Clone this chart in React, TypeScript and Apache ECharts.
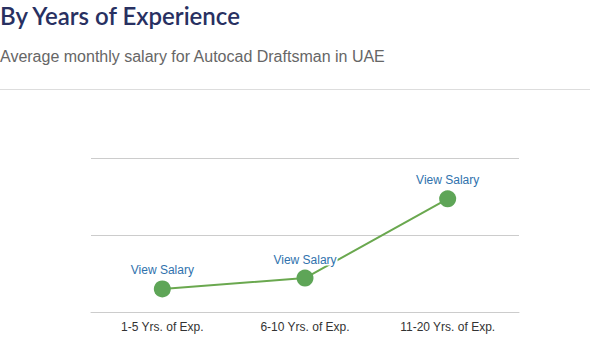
import React, { useEffect, useRef } from "react";
import * as echarts from "echarts";

const categories = ["1-5 Yrs. of Exp.", "6-10 Yrs. of Exp.", "11-20 Yrs. of Exp."];
const salaries = [3000, 4400, 14700];
const pointLabels = ["View Salary", "View Salary", "View Salary"];

export default function App() {
  const ref = useRef<HTMLDivElement>(null);
  useEffect(() => {
    document.body.style.margin = "0";
    const chart = echarts.init(ref.current!, null, { renderer: "svg" });
    chart.setOption({
      animation: false,
      title: [
        {
          text: "By Years of Experience",
          left: 0,
          top: 3,
          padding: 0,
          textStyle: { fontFamily: "Lato", fontSize: 24, fontWeight: 600, color: "#283061" },
        },
        {
          text: "Average monthly salary for Autocad Draftsman in UAE",
          left: 0,
          top: 48,
          padding: 0,
          textStyle: { fontFamily: "Liberation Sans", fontSize: 16, fontWeight: "normal", color: "#666666" },
        },
      ],
      graphic: [
        {
          type: "line",
          shape: { x1: 0, y1: 89.5, x2: 590, y2: 89.5 },
          style: { stroke: "#dddddd", lineWidth: 1 },
        },
      ],
      grid: { left: 91, right: 71, top: 158, bottom: 46, containLabel: false },
      xAxis: {
        type: "category",
        data: categories,
        boundaryGap: true,
        axisLine: { show: true, lineStyle: { color: "#cccccc" } },
        axisTick: { show: false },
        axisLabel: { color: "#333333", fontSize: 12, fontFamily: "Liberation Sans", margin: 9 },
      },
      yAxis: {
        type: "value",
        min: 0,
        max: 20000,
        interval: 10000,
        axisLabel: { show: false },
        axisLine: { show: false },
        axisTick: { show: false },
        splitLine: { lineStyle: { color: "#cccccc" } },
      },
      series: [
        {
          type: "line",
          data: salaries,
          symbol: "circle",
          symbolSize: 17,
          itemStyle: { color: "#5ea557" },
          lineStyle: { color: "#6aa84f", width: 2 },
          label: {
            show: true,
            position: "top",
            distance: 4,
            formatter: (p: any) => pointLabels[p.dataIndex],
            color: "#2f72ad",
            fontSize: 12,
            fontFamily: "Liberation Sans",
            backgroundColor: "#ffffff",
            padding: [0, 1],
          },
        },
      ],
    });
    return () => chart.dispose();
  }, []);
  return <div ref={ref} style={{ width: 590, height: 358 }} />;
}
